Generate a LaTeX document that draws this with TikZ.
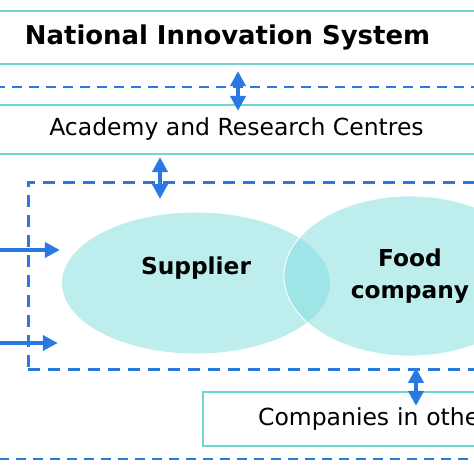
\documentclass[tikz,border=0pt]{standalone}
\usepackage{fontspec}
\setmainfont{DejaVu Sans}
\usetikzlibrary{arrows.meta,shapes}
\definecolor{line_cyan}{RGB}{112,212,212}
\definecolor{fill_cyan}{RGB}{125,220,222}
\definecolor{edge_blue}{RGB}{41,121,224}

\begin{document}
\begin{tikzpicture}[x=1pt,y=-1pt,>={Triangle[length=15pt,width=15pt]}]
    \tikzstyle{layer}=[draw=line_cyan,line width=2.2pt,inner sep=0pt,font=\fontsize{23.5}{28}\selectfont]
    \tikzstyle{firm}=[ellipse,fill=fill_cyan,fill opacity=0.5,text opacity=1,inner sep=0pt,font=\bfseries\fontsize{23.3}{32}\selectfont]
    \tikzstyle{frame}=[draw=edge_blue,line width=2.8pt,dash pattern=on 12pt off 8pt]
    \tikzstyle{link}=[draw=edge_blue,line width=4pt]

    \clip (0,0) rectangle (474,474);

    % outer frame, only its top and bottom show
    \path[frame,dash pattern=on 10pt off 7pt] (-20,87) rectangle (700,459);

    \node[layer,minimum width=700,minimum height=53,font=\bfseries\fontsize{25.9}{30}\selectfont] (nis) at (227.5,37.5) {National Innovation System};
    \node[layer,minimum width=700,minimum height=49] (acad) at (236.5,129.5) {Academy and Research Centres};
    \node[frame,minimum width=600,minimum height=187,anchor=north west] (chain) at (27,181) {};
    \node[layer,anchor=west,minimum height=54,inner xsep=55pt,text width=400pt,align=left] (comp) at (202,419) {Companies in othe};

    \node[firm,minimum width=268,minimum height=141] (sup) at (196,283) {};
    \node[firm,draw=white,line width=0.8pt,minimum width=252,minimum height=160,align=center] (food) at (410,276) {Food\\company};
    \node[font=\bfseries\fontsize{23.3}{28}\selectfont] (suplabel) at (196,268) {Supplier};

    \coordinate (ax1) at (238,0);
    \coordinate (ax2) at (160,0);
    \coordinate (ax3) at (416,0);
    \coordinate (in1) at (-5,250);
    \coordinate (in2) at (-5,343);

    \draw[link,<->] ([yshift=-6pt]nis.south -| ax1) -- ([yshift=-7pt]acad.north -| ax1);
    \draw[link,<->] ([yshift=-2pt]acad.south -| ax2) -- ([yshift=-18pt]chain.north -| ax2);
    \draw[link,<->] ([yshift=3pt]chain.south -| ax3) -- ([yshift=-15pt]comp.north -| ax3);
    \draw[link,->] (in1) -- ([xshift=-2pt]in1 -| sup.west);
    \draw[link,->] (in2) -- ([xshift=-4pt]in2 -| sup.west);
\end{tikzpicture}
\end{document}
